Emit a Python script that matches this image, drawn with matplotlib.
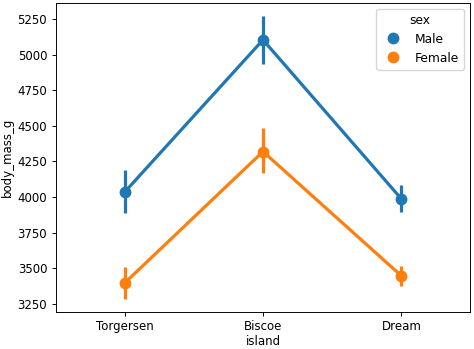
import numpy as np
import matplotlib.pyplot as plt

# mean body mass per island and sex, with 95% CI bounds
islands = ['Torgersen', 'Biscoe', 'Dream']
male_mean = [4034.8, 5104.5, 3987.1]
male_lo = [3889, 4934, 3896]
male_hi = [4190, 5270, 4085]
female_mean = [3395.6, 4319.4, 3446.3]
female_lo = [3285, 4169, 3376]
female_hi = [3510, 4485, 3517]

scale = 0.85
plt.rcParams.update({
    'font.size': 10 * scale,
    'axes.linewidth': 0.8 * scale,
    'xtick.major.size': 3.5 * scale,
    'ytick.major.size': 3.5 * scale,
    'xtick.major.width': 0.8 * scale,
    'ytick.major.width': 0.8 * scale,
    'xtick.major.pad': 3.5 * scale,
    'ytick.major.pad': 3.5 * scale,
})

fig = plt.figure(figsize=(4.74, 3.49), dpi=100)
ax = fig.add_axes([55.5 / 474, 37 / 349, 415 / 474, 309.5 / 349])

x = np.arange(len(islands))
series = [
    ('Male', male_mean, male_lo, male_hi, '#1f77b4'),
    ('Female', female_mean, female_lo, female_hi, '#ff7f0e'),
]
for name, mean, lo, hi, color in series:
    ax.plot(x, mean, color=color, lw=2.3, marker='o', markersize=7.5, label=name)
    ax.vlines(x, lo, hi, color=color, lw=2.3)

ax.set_xticks(x)
ax.set_xticklabels(islands)
ax.set_xlim(-0.5, 2.5)
ax.set_ylim(3192, 5367)
ax.set_yticks(np.arange(3250, 5251, 250))
ax.set_xlabel('island', labelpad=1.5)
ax.set_ylabel('body_mass_g', labelpad=2.5)

ax.legend(title='sex', loc='upper right', fontsize=8.8, title_fontsize=8.8,
          handles=[plt.Line2D([], [], color=c, marker='o', ls='', markersize=7.5)
                   for _, _, _, _, c in series],
          labels=[s[0] for s in series])

fig.savefig('out.png', dpi=100)
